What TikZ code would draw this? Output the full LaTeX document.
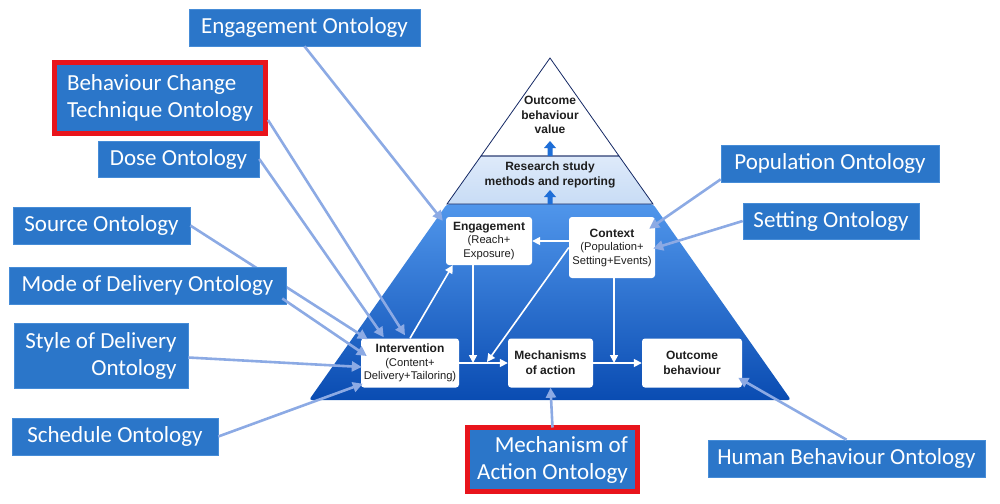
\documentclass[tikz,border=0pt]{standalone}
\usepackage{fontspec}
\usepackage{tikz}
\usetikzlibrary{arrows.meta}
\newfontfamily\labfont{Carlito}
\newfontfamily\boxfont{Liberation Sans}
\definecolor{ontoblue}{RGB}{43,118,201}
\definecolor{ontoedge}{RGB}{70,140,215}
\definecolor{keyred}{RGB}{232,20,28}
\definecolor{feedblue}{RGB}{140,170,228}
\definecolor{pyrtop}{RGB}{80,150,235}
\definecolor{pyrbot}{RGB}{10,76,178}
\definecolor{bandtop}{RGB}{222,234,250}
\definecolor{bandbot}{RGB}{200,220,245}
\definecolor{pyrline}{RGB}{20,40,100}
\definecolor{blockblue}{RGB}{30,110,215}
\definecolor{boxtext}{RGB}{30,30,30}
\tikzset{
	inbox/.style={fill=white, rounded corners=3pt, align=center, inner sep=0pt, text=boxtext, font=\boxfont\fontsize{11.2}{13.5}\selectfont},
	ontobox/.style={fill=ontoblue, draw=ontoedge, line width=0.6pt, text=white, inner sep=0pt, font=\labfont\fontsize{23}{27}\selectfont},
	keybox/.style={ontobox, draw=keyred, line width=5pt},
	feed/.style={draw=feedblue, line width=2.6pt, -{Triangle[length=10pt,width=10pt]}},
	flow/.style={draw=white, line width=1.6pt, -{Triangle[length=8pt,width=8pt]}},
}
\newcommand{\ttl}[1]{{\bfseries\fontsize{12}{14.5}\selectfont #1}}

\begin{document}
\begin{tikzpicture}[x=1pt,y=-1pt]
		\useasboundingbox (0,0) rectangle (1000,503);
		% pyramid
		\def\toptri{ (550,58) -- (619,156) -- (481,156) -- cycle};
		\def\band{ (481,156) -- (619,156) -- (653,204) -- (447,204) -- cycle};
		\shade[top color=pyrtop, bottom color=pyrbot, rounded corners=3pt] (447,204) -- (653,204) -- (791,400) -- (309,400) -- cycle;
		\shade[top color=bandtop, bottom color=bandbot] \band;
		\fill[white] \toptri;
		\draw[pyrline, line width=0.8pt] \toptri;
		\draw[pyrline, line width=0.8pt] \band;
		\fill[blockblue] (547.5,156) -- (547.5,148) -- (544,148) -- (550,141) -- (556,148) -- (552.5,148) -- (552.5,156) -- cycle;
		\fill[blockblue] (547.5,204) -- (547.5,197) -- (544,197) -- (550,190) -- (556,197) -- (552.5,197) -- (552.5,204) -- cycle;
		\node[align=center, text=boxtext, font=\boxfont\fontsize{12}{14.5}\selectfont\bfseries] (value) at (550,115) {Outcome\\behaviour\\value};
		\node[align=center, text=boxtext, font=\boxfont\fontsize{12}{15}\selectfont\bfseries] (study) at (550,175) {Research study\\methods and reporting};

		% framework boxes
		\node[inbox, minimum width=86pt, minimum height=48pt] (eng) at (489,241) {\ttl{Engagement}\\(Reach+\\Exposure)};
		\node[inbox, minimum width=86pt, minimum height=61pt] (ctx) at (612,247.5) {\ttl{Context}\\(Population+\\Setting+Events)};
		\node[inbox, minimum width=98pt, minimum height=49pt] (intv) at (410,363) {\ttl{Intervention}\\(Content+\\Delivery+Tailoring)};
		\node[inbox, minimum width=85pt, minimum height=49pt, font=\boxfont\fontsize{12}{15}\selectfont\bfseries] (mech) at (550.5,363) {Mechanisms\\of action};
		\node[inbox, minimum width=100pt, minimum height=49pt, font=\boxfont\fontsize{12}{15}\selectfont\bfseries] (outc) at (692,363) {Outcome\\behaviour};
		\coordinate (j1) at (473,363);
		\coordinate (j2) at (487,362);
		\coordinate (j3) at (614,363);
		\draw[flow] (intv.north) -- ([xshift=7pt]eng.south west);
		\draw[flow] (eng.south -| j1) -- (j1);
		\draw[flow] (ctx.west |- eng.east) -- (eng.east);
		\draw[flow] (ctx.west) -- (j2);
		\draw[flow] (ctx.south -| j3) -- (j3);
		\draw[flow] (intv.east) -- (mech.west);
		\draw[flow] (mech.east) -- (outc.west);

		% ontologies
		\node[ontobox, minimum width=231pt, minimum height=37pt] (engont) at (304.5,27.5) {Engagement Ontology};
		\node[keybox, minimum width=211pt, minimum height=71pt, align=left] (bctont) at (160,98) {Behaviour Change\\Technique Ontology};
		\node[ontobox, minimum width=161pt, minimum height=36pt] (doseont) at (178.5,159) {Dose Ontology};
		\node[ontobox, minimum width=177pt, minimum height=37pt] (srcont) at (101.5,225.5) {Source Ontology};
		\node[ontobox, minimum width=174pt, minimum height=65pt, align=right] (styleont) at (101,355.5) {Style of Delivery\\Ontology};
		\node[ontobox, minimum width=206pt, minimum height=37pt] (schedont) at (115,436.5) {Schedule Ontology};
		\node[ontobox, minimum width=218pt, minimum height=37pt] (popont) at (830,163.5) {Population Ontology};
		\node[ontobox, minimum width=176pt, minimum height=36pt] (setont) at (831,221) {Setting Ontology};
		\node[keybox, minimum width=170pt, minimum height=64pt, align=right] (moaont) at (552.5,459.5) {Mechanism of\\Action Ontology};
		\node[ontobox, minimum width=277pt, minimum height=37pt] (humont) at (846.5,458.5) {Human Behaviour Ontology};
		% source line runs behind the mode box
		\draw[feed] (srcont.east) -- ([xshift=7pt,yshift=-1pt]intv.north west);
		\node[ontobox, minimum width=277pt, minimum height=37pt] (modeont) at (147.5,285.5) {Mode of Delivery Ontology};

		\draw[feed] (engont.south) -- ([xshift=-3pt,yshift=-4pt]eng.north west);
		\draw[feed] ([yshift=-22pt]bctont.east) -- ([xshift=-5pt,yshift=3pt]intv.north);
		\draw[feed] (doseont.east) -- ([xshift=23pt,yshift=1pt]intv.north west);
		\draw[feed] ([xshift=-4pt,yshift=-13pt]modeont.east) -- ([xshift=6pt,yshift=7pt]intv.west);
		\draw[feed] ([yshift=-2pt]styleont.east) -- ([xshift=1pt,yshift=-4pt]intv.west);
		\draw[feed] (schedont.east) -- ([xshift=2pt,yshift=4pt]intv.south west);
		\draw[feed] ([yshift=3pt]popont.south west) -- ([xshift=-6pt,yshift=-12pt]ctx.north east);
		\draw[feed] (setont.west) -- ([xshift=-2pt,yshift=-1pt]ctx.east);
		\draw[feed] ([yshift=-2.5pt]moaont.north) -- (mech.south);
		\draw[feed] (humont.north) -- ([xshift=-4pt,yshift=10pt]outc.south east);
	\end{tikzpicture}
\end{document}
